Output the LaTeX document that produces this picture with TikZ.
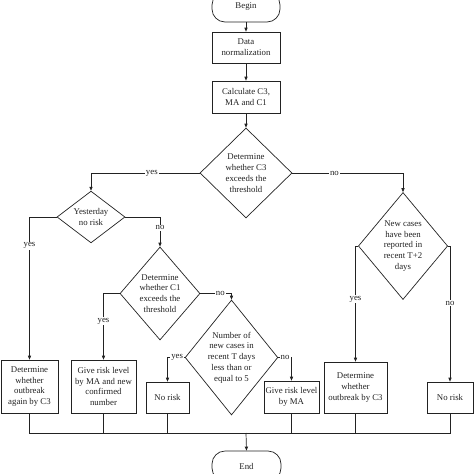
\documentclass[tikz,border=0pt]{standalone}
\usepackage{fontspec}
\setmainfont{Liberation Serif}
\usepackage{tikz}
\usetikzlibrary{arrows.meta,shapes.geometric}
\definecolor{cInk}{HTML}{222222}

\begin{document}
\begin{tikzpicture}[x=1pt,y=-1pt,
  font=\fontsize{8.8}{10.8}\selectfont,
  >={Triangle[length=4pt,width=3.2pt]},
  box/.style={rectangle, draw=cInk, line width=0.7pt, align=center, inner sep=1pt, text=cInk},
  dec/.style={diamond, draw=cInk, line width=0.7pt, align=center, inner sep=0pt, text=cInk},
  term/.style={rectangle, rounded corners=13pt, draw=cInk, line width=0.7pt,
     minimum width=68pt, minimum height=30pt, text=cInk},
  flow/.style={->, line width=0.7pt, draw=cInk},
  link/.style={line width=0.7pt, draw=cInk},
  alabel/.style={fill=white, inner sep=1pt, text=cInk},
]
\useasboundingbox (0,0) rectangle (474,474);

% =================== MAIN COLUMN ===================
\node[term] at (246,7) (start) {Begin};
\node[box, minimum width=68pt, minimum height=31pt] at (246,47.5) (norm) {Data\\normalization};
\node[box, minimum width=68pt, minimum height=32pt] at (246,97) (calc) {Calculate C3,\\MA and C1};
\node[dec, minimum width=92pt, minimum height=90pt] at (246,173) (dC3) {Determine\\whether C3\\exceeds the\\threshold};

\draw[flow] (start.south) -- (norm.north);
\draw[flow] (norm.south) -- (calc.north);
\draw[flow] (calc.south) -- (dC3.north);

% =================== YES BRANCH ===================
\node[dec, minimum width=68pt, minimum height=50pt] at (91,217) (dYes) {Yesterday\\no risk};
\node[dec, minimum width=80pt, minimum height=93pt] at (160,293.5) (dC1) {Determine\\whether C1\\exceeds the\\threshold};
\node[dec, minimum width=82pt, minimum height=115pt, inner sep=-1.5pt] at (231.5,357.5) (dNum)
 {Number of\\new cases in\\recent T days\\less than or\\equal to 5};

\node[box, minimum width=57pt, minimum height=53pt] at (29.5,386.5) (again)
 {Determine\\whether\\outbreak\\again by C3};
\node[box, minimum width=65pt, minimum height=53pt] at (103.5,386.5) (giveNew)
 {Give risk level\\by MA and new\\confirmed\\number};
\node[box, minimum width=43pt, minimum height=31pt] at (167.5,397.5) (noRiskA) {No risk};
\node[box, minimum width=55pt, minimum height=32pt] at (291.5,397) (giveMA) {Give risk level\\by MA};

\draw[flow] (dC3.west) -| (dYes.north) node[alabel,pos=0.22]{yes};
\draw[flow] (dYes.west) -| (again.north) node[alabel,pos=0.6]{yes};
\draw[flow] (dYes.east) -| (dC1.north) node[alabel,pos=0.68]{no};
\draw[flow] (dC1.west) -| (giveNew.north) node[alabel,pos=0.71]{yes};
\draw[flow] (dC1.east) -| (dNum.north) node[alabel,pos=0.32]{no};
\draw[flow] (dNum.west) -| (noRiskA.north) node[alabel,pos=0.22]{yes};
\draw[flow] (dNum.east) -| (giveMA.north) node[alabel,pos=0.26]{no};

% =================== NO BRANCH ===================
\node[dec, minimum width=84pt, minimum height=107pt] at (403,246) (dNew)
 {New cases\\have been\\reported in\\recent T+2\\days};
\node[box, minimum width=63pt, minimum height=51pt] at (355.5,387.5) (outC3)
 {Determine\\whether\\outbreak by C3};
\node[box, minimum width=46pt, minimum height=31pt] at (450,397.5) (noRiskB) {No risk};

\draw[flow] (dC3.east) -| (dNew.north) node[alabel,pos=0.19]{no};
\draw[flow] (dNew.west) -| (outC3.north) node[alabel,pos=0.73]{yes};
\draw[flow] (dNew.east) -| (noRiskB.north) node[alabel,pos=0.71]{no};

% =================== MERGE ===================
\coordinate (merge) at (246,433);
\node[term, minimum width=69pt] at (246.5,466) (stop) {End};

\draw[link] (again.south) |- (merge);
\draw[link] (giveNew.south) |- (merge);
\draw[link] (noRiskA.south) |- (merge);
\draw[link] (giveMA.south) |- (merge);
\draw[link] (outC3.south) |- (merge);
\draw[link] (noRiskB.south) |- (merge);
\draw[flow] (merge) -- (stop.north);

\end{tikzpicture}
\end{document}
